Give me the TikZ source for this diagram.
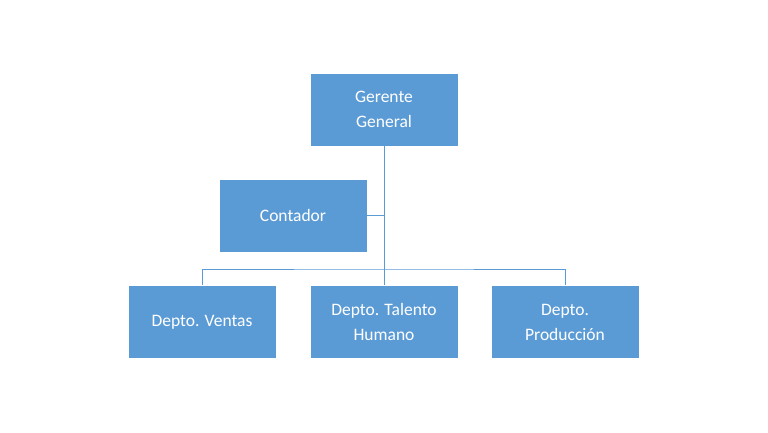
\documentclass[tikz,border=0pt]{standalone}
\usepackage{fontspec}
\setmainfont{Carlito}
\usetikzlibrary{positioning}
\definecolor{boxblue}{HTML}{5B9BD5}
\definecolor{lineblue}{HTML}{5B9BD5}
\tikzset{
  unit/.style={draw=white,line width=0.8pt,fill=boxblue,text=white,minimum width=148pt,minimum height=73pt,
    align=center,inner sep=2pt,font=\fontsize{17.5}{25}\selectfont},
  link/.style={draw=lineblue,line width=0.9pt}
}
\begin{document}
\begin{tikzpicture}[x=1pt,y=-1pt]
\useasboundingbox[fill=white] (0,0) rectangle (768,433);
% cajas
\node[unit] (gerente) at (384,109.5) {Gerente\\General};
\node[unit] (contador) at (293,215.5) {Contador};
\node[unit] (ventas) at (202,322) {Depto. Ventas};
\node[unit] (talento) at (384,322) {Depto. Talento\\Humano};
\node[unit] (produccion) at (565,322) {Depto.\\Producción};
% conectores
\coordinate (bar) at (384,269);
\draw[link] (gerente.south) -- (talento.north);
\draw[link] (contador.east) -- (contador.east -| gerente.south);
\draw[link] (ventas.north) |- (bar) -| (produccion.north);
\end{tikzpicture}
\end{document}
